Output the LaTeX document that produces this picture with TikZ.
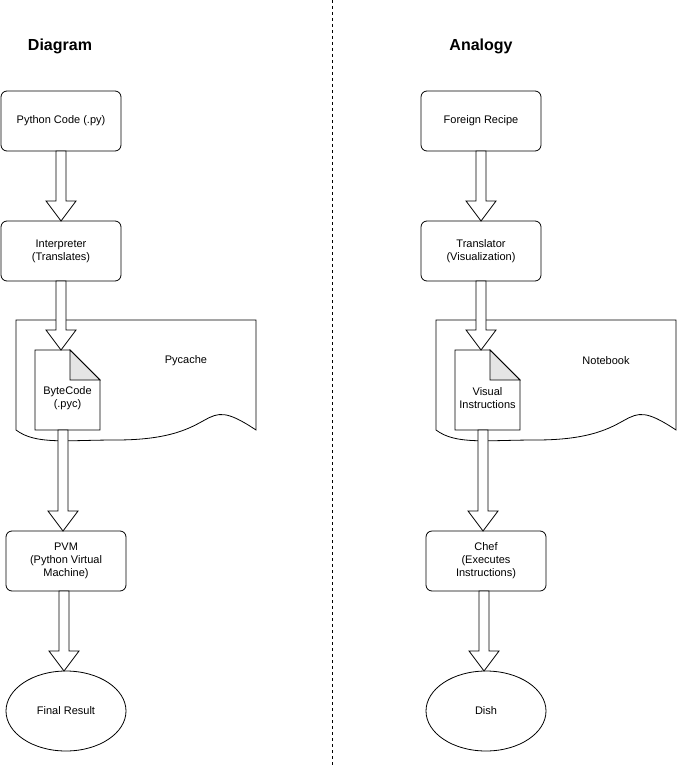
\documentclass[tikz,border=0pt]{standalone}
\usepackage{fontspec}
\usetikzlibrary{shapes.geometric}
\setmainfont{Liberation Sans}
\begin{document}
\begin{tikzpicture}[x=1pt,y=-1pt,
  box/.style={draw,rounded corners=6pt,minimum width=120pt,minimum height=60pt,align=center,font=\fontsize{11}{13}\selectfont,fill=white,line width=0.8pt},
  ell/.style={draw,ellipse,minimum width=120pt,minimum height=80pt,font=\fontsize{11}{13}\selectfont,line width=0.8pt},
  ttl/.style={font=\bfseries\fontsize{16}{18}\selectfont},
  lbl/.style={font=\fontsize{11}{13}\selectfont,align=center},
  ln/.style={line width=0.8pt}]
\useasboundingbox (0,0) rectangle (677,767);
\draw[dashed,ln] (332,0) -- (332,767);
\newcommand{\docshape}[2]{%
  \draw[ln,fill=white] (#1,#2) -- ++(240,0) -- ++(0,110) .. controls ++(-60,-40) and ++(110,0) .. ++(-140,10) .. controls ++(-50,0) and ++(20,15) .. ++(-100,-10) -- cycle;}
\newcommand{\noteshape}[3]{%
  \draw[ln,fill=white] (#1,#2) -- ++(35,0) -- ++(30,30) -- ++(0,50) -- ++(-65,0) -- cycle;
  \draw[ln,fill=black!10] (#1+35,#2) -- ++(0,30) -- ++(30,0) -- cycle;
  \node[lbl] (#3) at (#1+32.5,#2+48) {};}
\newcommand{\barrow}[3]{%
  \draw[ln,fill=white] (#1-5,#2) -- (#1+5,#2) -- (#1+5,#3-20) -- (#1+15,#3-20) -- (#1,#3) -- (#1-15,#3-20) -- (#1-5,#3-20) -- cycle;}
% left
\node[ttl] (t1) at (60,46) {Diagram};
\node[box] (py) at (61,121) {Python Code (.py)};
\node[box] (interp) at (61,251) {Interpreter\\(Translates)};
\docshape{16}{320}
\node[lbl] (pyc) at (186,361) {Pycache};
\noteshape{35}{350}{bc}
\node[lbl] at (67.5,398) {ByteCode\\(.pyc)};
\node[box] (pvm) at (66,561) {PVM\\(Python Virtual\\Machine)};
\node[ell] (fr) at (66,711) {Final Result};
\barrow{61}{151}{221}
\barrow{61}{281}{350}
\barrow{63}{430}{531}
\barrow{64}{591}{671}
% right
\node[ttl] (t2) at (481,46) {Analogy};
\node[box] (fr2) at (481,121) {Foreign Recipe};
\node[box] (tr) at (481,251) {Translator\\(Visualization)};
\docshape{436}{320}
\node[lbl] (nb) at (606,361) {Notebook};
\noteshape{455}{350}{vi}
\node[lbl] at (487.5,398) {Visual\\Instructions};
\node[box] (chef) at (486,561) {Chef\\(Executes\\Instructions)};
\node[ell] (dish) at (486,711) {Dish};
\barrow{481}{151}{221}
\barrow{481}{281}{350}
\barrow{483}{430}{531}
\barrow{484}{591}{671}
\end{tikzpicture}
\end{document}
